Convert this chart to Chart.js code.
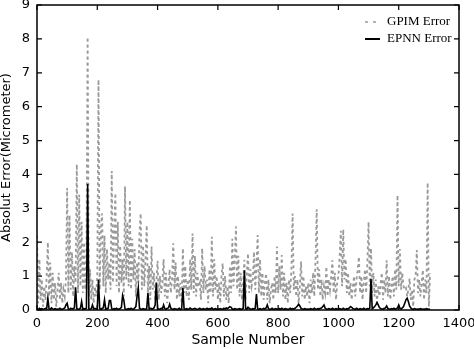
<!DOCTYPE html>
<html>
<head>
<meta charset="utf-8">
<script src="https://cdn.jsdelivr.net/npm/chart.js@4.4.1/dist/chart.umd.min.js"></script>
<style>
  html, body { margin: 0; padding: 0; background: #fff; }
  #wrap { width: 474px; height: 349px; position: relative; }
</style>
</head>
<body>
<div id="wrap"><canvas id="c" width="474" height="349"></canvas></div>
<script>
// Sample numbers are read every 4 samples (0, 4, 8, ... 1304)
const sampleStep = 4;

// GPIM absolute error (micrometer), one value per 4 samples
const gpimError = [
  2.2,0.2,1.5,0.3,0.9,0.1,0.7,0.3,1.0,2.0,0.4,1.4,0.2,1.1,0.3,0.8,0.1,0.6,1.1,0.3,0.8,0.2,0.6,0.4,0.9,
  3.6,0.5,2.8,0.6,1.7,0.4,1.3,0.8,4.3,0.5,3.4,0.7,2.6,0.5,2.0,0.6,1.5,8.05,0.4,1.2,0.3,0.9,0.2,0.7,0.4,
  1.0,6.8,0.6,2.4,2.85,0.7,2.2,0.5,1.8,0.9,1.4,0.6,4.1,0.8,2.3,3.45,0.7,2.6,0.5,1.9,0.8,1.5,0.4,3.65,0.9,
  2.6,0.7,3.25,0.6,2.1,0.9,1.8,0.4,1.4,0.8,2.3,2.85,0.6,1.9,0.7,1.5,2.5,0.5,1.3,0.3,1.87,0.6,1.1,0.3,0.8,
  1.45,0.3,1.0,0.5,0.8,1.5,0.4,1.1,0.2,0.7,1.2,0.5,0.9,1.97,0.6,1.4,0.3,1.0,0.4,0.8,0.2,1.82,0.5,1.3,0.4,
  0.9,0.3,1.5,0.6,2.26,0.5,1.6,0.4,1.1,0.7,0.8,0.3,1.82,0.5,1.3,0.6,0.9,0.2,1.2,0.5,2.16,0.4,1.5,0.6,1.0,
  0.3,0.8,0.2,1.0,1.38,0.4,1.0,0.3,0.7,0.2,1.3,0.5,2.1,0.7,1.5,2.46,0.6,1.6,0.4,1.1,0.3,0.8,1.48,0.3,1.1,
  1.67,0.5,1.2,0.7,0.9,1.72,0.6,1.3,2.21,0.5,1.5,0.4,1.1,0.3,0.8,1.08,0.3,0.9,0.2,0.6,0.8,0.3,1.0,0.5,1.87,
  0.5,1.3,0.6,1.62,0.4,1.1,0.3,0.8,0.2,0.9,0.5,1.2,2.85,0.6,1.0,0.4,0.9,0.2,0.7,1.43,0.4,1.0,0.3,0.7,0.4,
  0.8,0.2,0.9,0.5,1.1,0.4,1.5,2.97,0.6,1.2,0.4,0.9,0.3,0.7,0.5,1.28,0.4,0.9,0.6,1.0,1.47,0.5,1.1,0.3,0.8,
  1.0,1.6,2.34,0.7,2.38,0.9,1.5,0.5,1.1,0.4,0.8,0.3,0.7,1.0,0.4,0.9,1.2,1.57,0.5,1.0,0.3,0.8,1.2,0.5,1.4,
  2.6,0.7,1.82,0.5,1.1,0.4,0.9,0.2,0.7,0.4,0.8,1.1,0.3,0.9,0.5,1.47,0.4,1.0,0.3,0.7,1.0,0.4,1.2,0.6,3.39,
  0.7,1.8,0.6,1.1,0.7,0.6,0.65,0.4,0.6,0.93,0.3,0.6,0.1,0.9,1.0,1.77,0.5,0.9,0.4,0.8,1.18,0.3,0.9,0.5,3.76,0.1,1.08
];

// EPNN absolute error (micrometer), one value per 4 samples
const epnnError = [
  0.03,0.02,0.05,0.02,0.04,0.02,0.03,0.05,0.03,0.35,0.03,0.02,0.06,0.03,0.02,0.04,0.02,0.03,0.02,0.05,0.03,0.02,0.04,0.06,0.15,
  0.2,0.03,0.02,0.05,0.03,0.04,0.06,0.67,0.04,0.02,0.03,0.05,0.25,0.02,0.04,0.03,0.05,3.72,0.03,0.02,0.04,0.15,0.03,0.05,0.03,
  0.04,0.9,0.04,0.02,0.05,0.06,0.3,0.03,0.04,0.05,0.28,0.28,0.03,0.02,0.04,0.03,0.05,0.02,0.03,0.04,0.08,0.43,0.3,0.03,0.02,
  0.03,0.04,0.02,0.05,0.03,0.02,0.06,0.1,0.4,0.65,0.05,0.03,0.02,0.04,0.03,0.02,0.05,0.5,0.03,0.05,0.04,0.03,0.06,0.15,0.8,
  0.04,0.03,0.02,0.05,0.03,0.15,0.04,0.02,0.05,0.06,0.17,0.05,0.03,0.02,0.04,0.03,0.02,0.03,0.05,0.02,0.03,0.65,0.03,0.02,0.04,
  0.02,0.03,0.06,0.03,0.02,0.04,0.05,0.03,0.02,0.03,0.05,0.02,0.03,0.04,0.02,0.03,0.05,0.02,0.04,0.03,0.06,0.02,0.03,0.04,0.02,
  0.03,0.02,0.04,0.03,0.02,0.05,0.03,0.06,0.04,0.07,0.1,0.08,0.03,0.02,0.04,0.03,0.02,0.03,0.04,0.02,0.03,0.05,1.17,0.04,0.03,
  0.08,0.05,0.03,0.02,0.04,0.03,0.05,0.47,0.03,0.02,0.04,0.02,0.03,0.05,0.03,0.06,0.15,0.04,0.02,0.03,0.05,0.02,0.03,0.04,0.02,
  0.03,0.04,0.02,0.05,0.03,0.02,0.04,0.03,0.02,0.03,0.05,0.02,0.04,0.03,0.05,0.08,0.12,0.17,0.12,0.05,0.03,0.02,0.04,0.03,0.02,
  0.03,0.02,0.04,0.03,0.02,0.05,0.03,0.02,0.04,0.03,0.05,0.06,0.1,0.15,0.05,0.03,0.02,0.04,0.03,0.02,0.05,0.03,0.02,0.04,0.03,
  0.02,0.04,0.03,0.02,0.05,0.03,0.02,0.04,0.03,0.06,0.1,0.08,0.04,0.03,0.02,0.05,0.03,0.02,0.04,0.03,0.02,0.05,0.03,0.02,0.04,
  0.03,0.05,0.92,0.04,0.06,0.1,0.15,0.22,0.15,0.07,0.04,0.03,0.02,0.05,0.06,0.12,0.04,0.03,0.02,0.04,0.03,0.05,0.02,0.04,0.06,
  0.15,0.05,0.03,0.06,0.1,0.2,0.3,0.35,0.25,0.12,0.06,0.03,0.02,0.04,0.03,0.02,0.03,0.02,0.04,0.03,0.02,0.03,0.02,0.04,0.03,0.02,0.03
];

const xTicks = [0, 200, 400, 600, 800, 1000, 1200, 1400];
const yTicks = [0, 1, 2, 3, 4, 5, 6, 7, 8, 9];
const seriesNames = ['GPIM Error', 'EPNN Error'];

const toPoints = arr => arr.map((v, i) => ({ x: i * sampleStep, y: v }));

const framePlugin = {
  id: 'frame',
  afterDraw(chart) {
    const { ctx, chartArea: a, scales } = chart;
    ctx.save();
    ctx.strokeStyle = '#000';
    ctx.lineWidth = 1.5;
    ctx.strokeRect(a.left, a.top, a.right - a.left, a.bottom - a.top);
    const tl = 5;
    ctx.lineWidth = 1.2;
    ctx.beginPath();
    xTicks.forEach(v => {
      const px = scales.x.getPixelForValue(v);
      ctx.moveTo(px, a.bottom); ctx.lineTo(px, a.bottom - tl);
      ctx.moveTo(px, a.top); ctx.lineTo(px, a.top + tl);
    });
    yTicks.forEach(v => {
      const py = scales.y.getPixelForValue(v);
      ctx.moveTo(a.left, py); ctx.lineTo(a.left + tl, py);
      ctx.moveTo(a.right, py); ctx.lineTo(a.right - tl, py);
    });
    ctx.stroke();

    // legend (top right, inside plot)
    const lx1 = a.right - 94, lx2 = a.right - 79, tx = a.right - 72;
    const ly1 = a.top + 17, ly2 = a.top + 34;
    ctx.font = '13px "Liberation Serif", serif';
    ctx.fillStyle = '#000';
    ctx.textBaseline = 'middle';
    ctx.textAlign = 'left';
    ctx.strokeStyle = '#999';
    ctx.lineWidth = 1.5;
    ctx.setLineDash([3, 5]);
    ctx.beginPath(); ctx.moveTo(lx1, ly1); ctx.lineTo(lx2, ly1); ctx.stroke();
    ctx.setLineDash([]);
    ctx.strokeStyle = '#000';
    ctx.lineWidth = 2;
    ctx.beginPath(); ctx.moveTo(lx1, ly2); ctx.lineTo(lx2, ly2); ctx.stroke();
    ctx.fillText(seriesNames[0], tx, ly1);
    ctx.fillText(seriesNames[1], tx, ly2);
    ctx.restore();
  }
};

new Chart(document.getElementById('c'), {
  type: 'line',
  data: {
    datasets: [
      {
        label: seriesNames[0],
        data: toPoints(gpimError),
        borderColor: '#9a9a9a',
        borderWidth: 1.8,
        borderDash: [3, 3],
        pointRadius: 0,
        tension: 0,
        order: 2
      },
      {
        label: seriesNames[1],
        data: toPoints(epnnError),
        borderColor: '#000',
        borderWidth: 1.6,
        pointRadius: 0,
        tension: 0,
        order: 1
      }
    ]
  },
  options: {
    responsive: false,
    animation: false,
    devicePixelRatio: 1,
    layout: { padding: { top: 5, right: 15, left: 0, bottom: 0 } },
    plugins: { legend: { display: false }, tooltip: { enabled: false } },
    scales: {
      x: {
        type: 'linear',
        min: 0, max: 1400,
        afterBuildTicks: s => { s.ticks = xTicks.map(v => ({ value: v })); },
        afterFit: s => { s.height = 39; s.paddingLeft = 0; s.paddingRight = 0; },
        grid: { display: false, drawTicks: false },
        border: { display: false },
        ticks: { color: '#000', font: { family: 'DejaVu Sans', size: 13 }, padding: 6, maxRotation: 0, autoSkip: false, callback: v => String(v) },
        title: { display: true, text: 'Sample Number', color: '#000', font: { family: 'DejaVu Sans', size: 14 }, padding: { top: 2, bottom: 0 } }
      },
      y: {
        type: 'linear',
        min: 0, max: 9,
        afterBuildTicks: s => { s.ticks = yTicks.map(v => ({ value: v })); },
        afterFit: s => { s.width = 37; s.paddingTop = 0; s.paddingBottom = 0; },
        grid: { display: false, drawTicks: false },
        border: { display: false },
        ticks: { color: '#000', font: { family: 'DejaVu Sans', size: 13 }, padding: 7, callback: v => String(v) },
        title: { display: true, text: 'Absolut Error(Micrometer)', color: '#000', font: { family: 'DejaVu Sans', size: 13, lineHeight: 1 }, padding: { top: 0, bottom: 0 } }
      }
    }
  },
  plugins: [framePlugin]
});
</script>
</body>
</html>
